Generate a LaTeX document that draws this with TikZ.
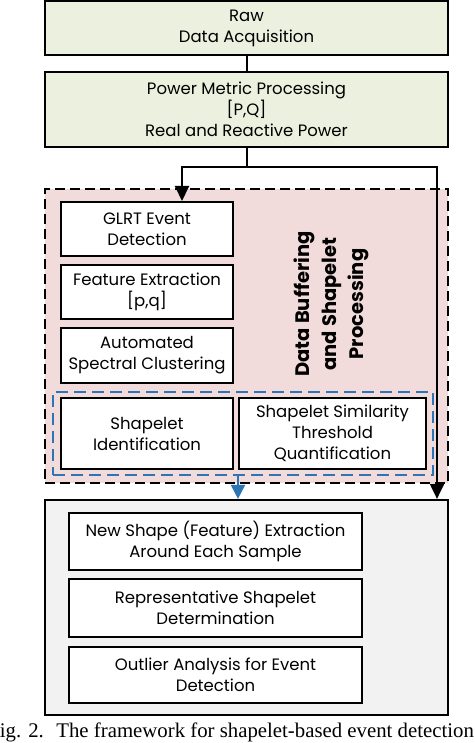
\documentclass[tikz,border=0pt]{standalone}
\usepackage{fontspec}
\setmainfont{Poppins}
\newfontfamily\capfont{Liberation Serif}
\usetikzlibrary{arrows.meta}
\definecolor{stagegreen}{HTML}{EBF1DE}
\definecolor{stagepink}{HTML}{F2DCDB}
\definecolor{stagegray}{HTML}{F2F2F2}
\definecolor{dashblue}{HTML}{2E75B6}
\begin{document}
\begin{tikzpicture}[
  x=1pt, y=-1pt,
  font=\fontsize{16.5}{21}\selectfont,
  stage/.style={draw, line width=2.2pt, fill=stagegreen, minimum width=403pt, align=center, inner sep=0pt},
  group/.style={draw, line width=2pt, dash pattern=on 10pt off 5pt, fill=stagepink, minimum width=403pt, inner sep=0pt},
  subgroup/.style={draw=dashblue, line width=2pt, dash pattern=on 12pt off 6pt, inner sep=0pt},
  panel/.style={draw, line width=2.2pt, fill=stagegray, minimum width=403pt, inner sep=0pt},
  step box/.style={draw, line width=2pt, fill=white, align=center, inner sep=0pt},
  link/.style={draw, line width=2pt},
  flow/.style={link, -{Triangle[width=14pt,length=15pt]}},
  blueflow/.style={draw=dashblue, line width=2pt, -{Triangle[width=14pt,length=14pt]}, dashblue}
]
\useasboundingbox (0,0) rectangle (474,743);

% Nodes
\node[stage, minimum height=54pt] (raw) at (246.5, 28) {Raw\\Data Acquisition};
\node[stage, minimum height=75pt] (power) at (246.5, 109.5) {Power Metric Processing\\{[P,Q]}\\Real and Reactive Power};

\node[group, minimum height=294pt] (buffer) at (246.5, 336) {};
\node[step box, minimum width=172pt, minimum height=54pt] (glrt) at (147, 229) {GLRT Event\\Detection};
\node[step box, minimum width=172pt, minimum height=54pt] (feat) at (147, 292) {Feature Extraction\\{[p,q]}};
\node[step box, minimum width=172pt, minimum height=55pt] (spec) at (147, 355.5) {Automated\\Spectral Clustering};
\node[subgroup, minimum width=380pt, minimum height=83pt] (shapegrp) at (243, 433.5) {};
\node[step box, minimum width=172pt, minimum height=71pt] (ident) at (147, 433.5) {Shapelet\\Identification};
\node[step box, minimum width=187pt, minimum height=71pt] (thresh) at (332.5, 433.5) {Shapelet Similarity\\Threshold\\Quantification};
\node[rotate=90, align=center, font=\fontsize{19.5}{27}\selectfont\bfseries] (bufname) at (331, 304) {Data Buffering\\and Shapelet\\Processing};

\node[panel, minimum height=215pt] (final) at (246.5, 607.5) {};
\node[step box, minimum width=293pt, minimum height=57pt] (newshape) at (215.5, 541.5) {New Shape (Feature) Extraction\\Around Each Sample};
\node[step box, minimum width=293pt, minimum height=58pt] (repr) at (215.5, 608) {Representative Shapelet\\Determination};
\node[step box, minimum width=293pt, minimum height=56pt] (outlier) at (215.5, 675) {Outlier Analysis for Event\\Detection};

\node[anchor=base west, inner sep=0pt, font=\capfont\fontsize{20.8}{22}\selectfont] (caption) at (-11.8, 737) {Fig. 2.\hspace{12.5pt}The framework for shapelet-based event detection.};

% Edges
\coordinate (splitL) at (182, 167);
\coordinate (splitR) at (437, 167);
\draw[link] (raw) -- (power);
\draw[link] (power.south) -- (power.south |- splitL);
\draw[link, line cap=rect] (splitL) -- (splitR);
\draw[flow] (splitL) -- (splitL |- glrt.north);
\draw[flow] (splitR) -- (splitR |- final.north);
\draw[blueflow] (thresh.west |- shapegrp.south) -- (thresh.west |- final.north);

\end{tikzpicture}
\end{document}
